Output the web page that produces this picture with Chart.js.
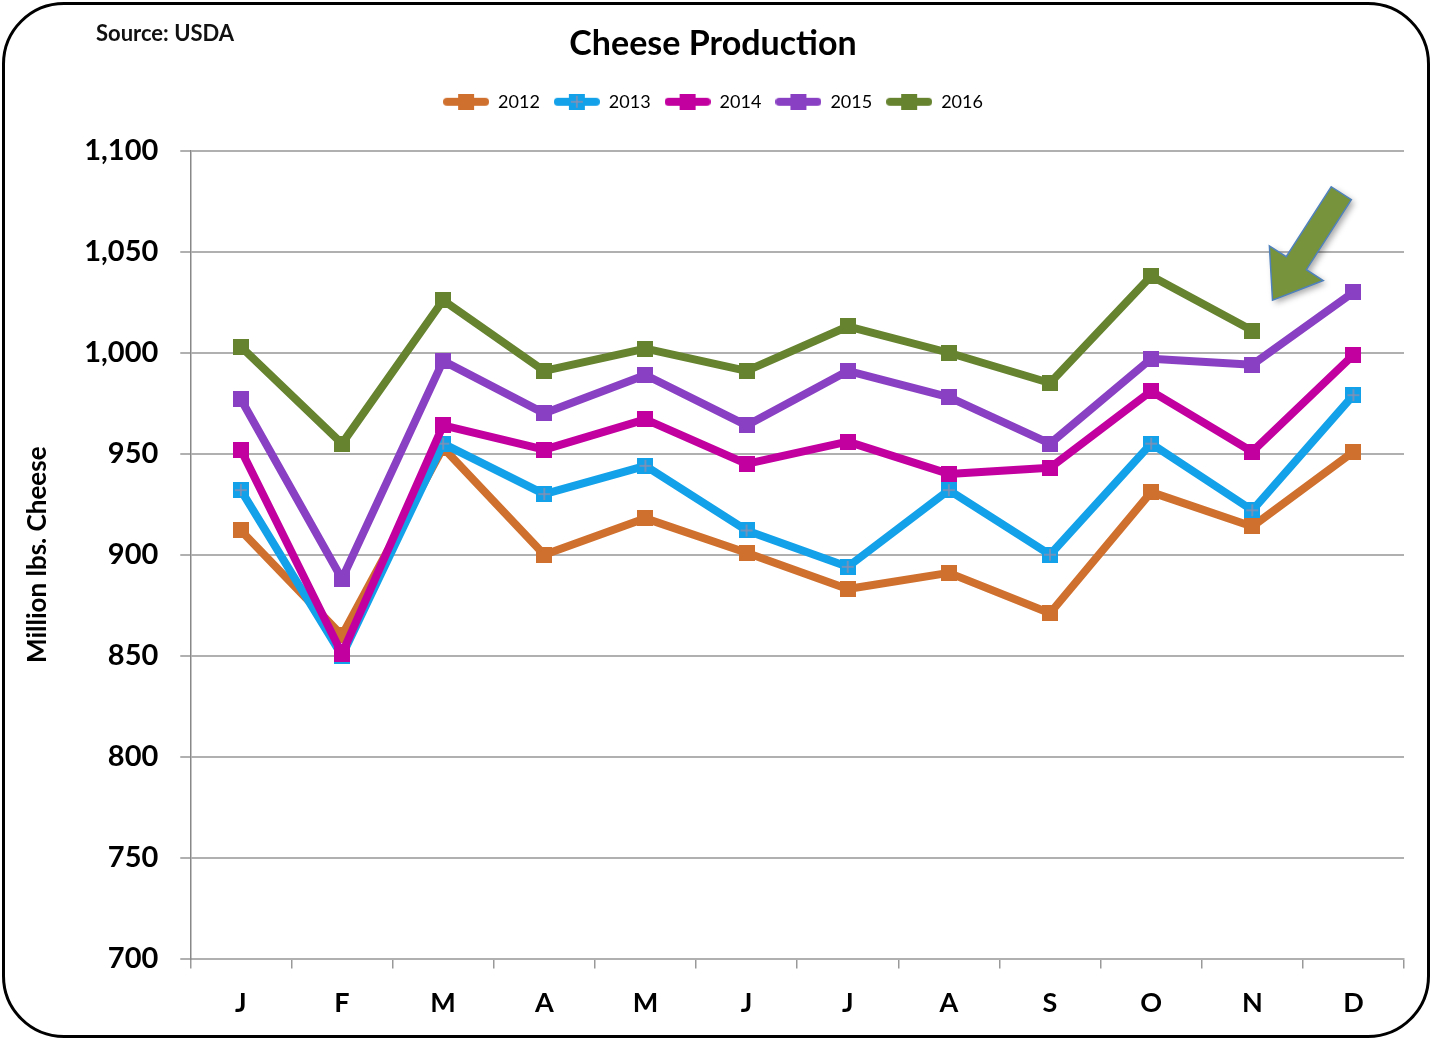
<!DOCTYPE html>
<html>
<head>
<meta charset="utf-8">
<script src="https://cdn.jsdelivr.net/npm/chart.js@4.4.1/dist/chart.umd.min.js"></script>
<style>
  body { margin: 0; background: #fff; }
  #frame {
    position: absolute; left: 2px; top: 2px; width: 1422px; height: 1030px;
    border: 3px solid #000; border-radius: 62px;
  }
  #wrap { position: absolute; left: 0; top: 0; width: 1432px; height: 1041px; }
  #source {
    position: absolute; left: 96px; top: 19px;
    font: bold 22px Lato, sans-serif; color: #111;
  }
</style>
</head>
<body>
<div id="frame"></div>
<div id="wrap"><canvas id="line-chart" width="1432" height="1041"></canvas></div>
<div id="source">Source: USDA</div>
<script>
// monthly cheese production, million lbs
months = ['J', 'F', 'M', 'A', 'M', 'J', 'J', 'A', 'S', 'O', 'N', 'D']
years = ['2012', '2013', '2014', '2015', '2016']
prod2012 = [912, 860, 953, 900, 918, 901, 883, 891, 871, 931, 914, 951]
prod2013 = [932, 850, 955, 930, 944, 912, 894, 932, 900, 955, 922, 979]
prod2014 = [952, 851, 964, 952, 967, 945, 956, 940, 943, 981, 951, 999]
prod2015 = [977, 888, 996, 970, 989, 964, 991, 978, 955, 997, 994, 1030]
prod2016 = [1003, 955, 1026, 991, 1002, 991, 1013, 1000, 985, 1038, 1011, null]
colors = ['#d0702e', '#13a1e9', '#c2009f', '#8a40c3', '#66832f']

function makeMarker(color, plus) {
    var c = document.createElement('canvas')
    c.width = 16; c.height = 16
    var ctx = c.getContext('2d')
    ctx.fillStyle = color
    ctx.fillRect(0, 0, 16, 16)
    if (plus) {
        ctx.strokeStyle = '#8a8fb0'
        ctx.lineWidth = 1.5
        ctx.beginPath()
        ctx.moveTo(8, 2); ctx.lineTo(8, 14)
        ctx.moveTo(2, 8); ctx.lineTo(14, 8)
        ctx.stroke()
    }
    return c
}

function makeLegendIcon(color, plus) {
    var c = document.createElement('canvas')
    c.width = 46; c.height = 16
    var ctx = c.getContext('2d')
    ctx.strokeStyle = color
    ctx.lineWidth = 8
    ctx.lineCap = 'round'
    ctx.beginPath()
    ctx.moveTo(4, 8); ctx.lineTo(42, 8)
    ctx.stroke()
    ctx.drawImage(makeMarker(color, plus), 15, 0)
    return c
}

series = [prod2012, prod2013, prod2014, prod2015, prod2016]
datasets = []
for (var i = 0; i < series.length; i++) {
    datasets.push({
        label: years[i],
        data: series[i],
        borderColor: colors[i],
        backgroundColor: colors[i],
        borderWidth: 8,
        pointStyle: makeMarker(colors[i], i == 1),
        legendIcon: makeLegendIcon(colors[i], i == 1),
        order: series.length - i,   // later years drawn on top, like excel
        tension: 0
    })
}

// extra room under the legend
legendGap = {
    id: 'legendGap',
    beforeInit: function (chart) {
        var fit = chart.legend.fit
        chart.legend.fit = function () {
            fit.bind(chart.legend)()
            this.height += 30
        }
    }
}

// the green arrow pointing at November
arrowPlugin = {
    id: 'arrow',
    afterDatasetsDraw: function (chart) {
        var x = chart.scales.x, y = chart.scales.y
        var tx = x.getPixelForValue(10.2), ty = y.getPixelForValue(1026)
        var sx = x.getPixelForValue(10.88), sy = y.getPixelForValue(1079)
        var ang = Math.atan2(ty - sy, tx - sx)
        var len = Math.hypot(tx - sx, ty - sy)
        var ctx = chart.ctx
        ctx.save()
        ctx.translate(sx, sy)
        ctx.rotate(ang)
        var hw = 12, hl = 44, hh = 32
        ctx.beginPath()
        ctx.moveTo(0, -hw)
        ctx.lineTo(len - hl, -hw)
        ctx.lineTo(len - hl, -hh)
        ctx.lineTo(len, 0)
        ctx.lineTo(len - hl, hh)
        ctx.lineTo(len - hl, hw)
        ctx.lineTo(0, hw)
        ctx.closePath()
        ctx.shadowColor = 'rgba(0,0,0,0.35)'
        ctx.shadowBlur = 6
        ctx.shadowOffsetX = 3
        ctx.shadowOffsetY = 3
        ctx.fillStyle = '#77933c'
        ctx.fill()
        ctx.shadowColor = 'transparent'
        ctx.strokeStyle = '#4f81bd'
        ctx.lineWidth = 1.5
        ctx.stroke()
        ctx.restore()
    }
}

Chart.defaults.font.family = 'Lato, sans-serif'
Chart.defaults.color = '#000'

new Chart(document.getElementById('line-chart'), {
    type: 'line',
    data: { labels: months, datasets: datasets },
    plugins: [legendGap, arrowPlugin],
    options: {
        responsive: false,
        animation: false,
        devicePixelRatio: 1,
        layout: { padding: { left: 22, right: 28, top: 24, bottom: 4 } },
        elements: {
            point: { radius: 8, hoverRadius: 8, borderWidth: 0 },
            line: { borderJoinStyle: 'round' }
        },
        plugins: {
            title: {
                display: true,
                text: 'Cheese Production',
                font: { size: 34, weight: 'bold' },
                color: '#000',
                padding: { top: 0, bottom: 14 }
            },
            legend: {
                position: 'top',
                labels: {
                    usePointStyle: true,
                    pointStyleWidth: 46,
                    boxHeight: 16,
                    padding: 14,
                    font: { size: 18 },
                    color: '#222',
                    generateLabels: function (chart) {
                        return chart.data.datasets.map(function (ds, i) {
                            return {
                                text: ds.label,
                                pointStyle: ds.legendIcon,
                                fillStyle: ds.borderColor,
                                strokeStyle: ds.borderColor,
                                lineWidth: 0,
                                datasetIndex: i,
                                hidden: false
                            }
                        })
                    }
                }
            },
            tooltip: { enabled: false }
        },
        scales: {
            x: {
                offset: true,
                grid: {
                    offset: true,
                    drawOnChartArea: false,
                    drawTicks: true,
                    tickLength: 10,
                    color: '#999',
                    lineWidth: 1.5
                },
                border: { color: '#b0b0b0', width: 2 },
                ticks: {
                    font: { size: 27, weight: 'bold' },
                    padding: 18,
                    maxRotation: 0
                }
            },
            y: {
                min: 700,
                max: 1100,
                ticks: {
                    stepSize: 50,
                    font: { size: 29, weight: 'bold' },
                    padding: 22
                },
                grid: {
                    color: '#b0b0b0',
                    lineWidth: 2,
                    tickLength: 10
                },
                border: { color: '#888', width: 1.5 },
                title: {
                    display: true,
                    text: 'Million lbs. Cheese',
                    font: { size: 26, weight: 'bold' },
                    padding: { top: 0, bottom: 9 }
                }
            }
        }
    }
})
</script>
</body>
</html>
